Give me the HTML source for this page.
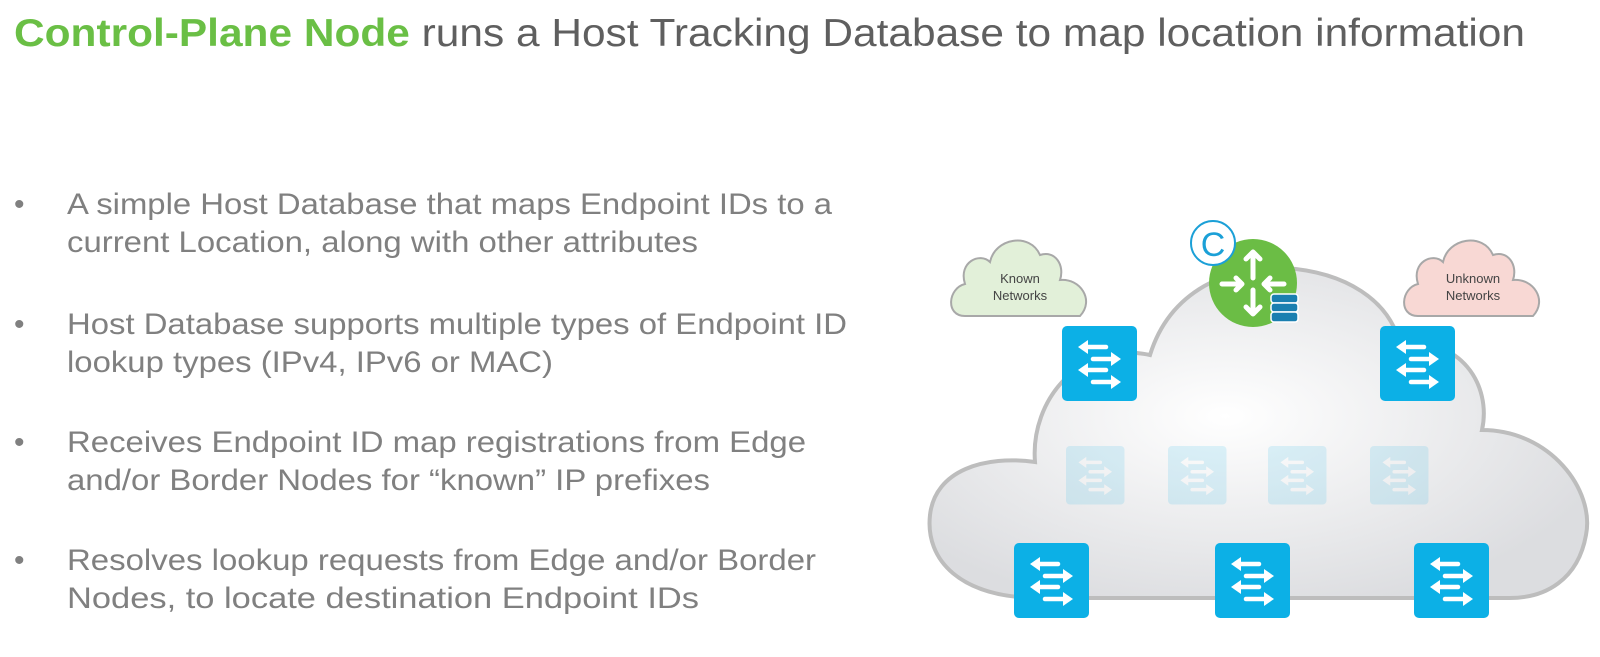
<!DOCTYPE html>
<html><head><meta charset="utf-8"><style>
html,body{margin:0;padding:0;background:#fff;width:1600px;height:657px;overflow:hidden}
svg{display:block}
</style></head><body>
<svg width="1600" height="657" viewBox="0 0 1600 657" xmlns="http://www.w3.org/2000/svg" font-family="Liberation Sans, Arial, sans-serif">
<defs>
<radialGradient id="cg" cx="0.45" cy="0.45" r="0.6">
<stop offset="0" stop-color="#ffffff"/><stop offset="1" stop-color="#dcdde0"/>
</radialGradient>
<g id="sw">
<rect x="0" y="0" width="75" height="75" rx="5" fill="#0cb0e6"/>
<g stroke="#fff" stroke-width="4.5" fill="none" stroke-linecap="round">
<path d="M24 21 H44"/>
<path d="M31 33 H52"/>
<path d="M24 44 H44"/>
<path d="M31 56 H52"/>
</g>
<g fill="#fff">
<path d="M16 21 L26 14 L26 28 Z"/>
<path d="M59 33 L49 26 L49 40 Z"/>
<path d="M16 44 L26 37 L26 51 Z"/>
<path d="M59 56 L49 49 L49 63 Z"/>
</g>
</g>
</defs>

<text x="14" y="46" font-size="39" textLength="1511" lengthAdjust="spacingAndGlyphs"><tspan fill="#6abf45" font-weight="bold">Control-Plane Node</tspan><tspan fill="#5f5f5f"> runs a Host Tracking Database to map location information</tspan></text>

<g fill="#808080" font-size="30">
<text x="14" y="214">•</text>
<text x="67" y="214" textLength="765" lengthAdjust="spacingAndGlyphs">A simple Host Database that maps Endpoint IDs to a</text>
<text x="67" y="252" textLength="631" lengthAdjust="spacingAndGlyphs">current Location, along with other attributes</text>
<text x="14" y="334">•</text>
<text x="67" y="334" textLength="780" lengthAdjust="spacingAndGlyphs">Host Database supports multiple types of Endpoint ID</text>
<text x="67" y="372" textLength="486" lengthAdjust="spacingAndGlyphs">lookup types (IPv4, IPv6 or MAC)</text>
<text x="14" y="452">•</text>
<text x="67" y="452" textLength="739" lengthAdjust="spacingAndGlyphs">Receives Endpoint ID map registrations from Edge</text>
<text x="67" y="490" textLength="643" lengthAdjust="spacingAndGlyphs">and/or Border Nodes for “known” IP prefixes</text>
<text x="14" y="570">•</text>
<text x="67" y="570" textLength="749" lengthAdjust="spacingAndGlyphs">Resolves lookup requests from Edge and/or Border</text>
<text x="67" y="608" textLength="632" lengthAdjust="spacingAndGlyphs">Nodes, to locate destination Endpoint IDs</text>
</g>

<!-- small clouds -->
<path d="M965 316 C945 316 948 288 965 284 C958 262 980 252 990 262 C995 238 1030 232 1040 255 C1055 250 1065 265 1060 280 C1080 278 1095 300 1080 316 Z" fill="#e2f0d9" stroke="#a8a8a8" stroke-width="2"/>
<text x="1020" y="283" font-size="13" fill="#444" text-anchor="middle">Known</text>
<text x="1020" y="300" font-size="13" fill="#444" text-anchor="middle">Networks</text>
<path d="M1418 316 C1398 316 1401 288 1418 284 C1411 262 1433 252 1443 262 C1448 238 1483 232 1493 255 C1508 250 1518 265 1513 280 C1533 278 1548 300 1533 316 Z" fill="#f8d8d4" stroke="#a8a8a8" stroke-width="2"/>
<text x="1473" y="283" font-size="13" fill="#444" text-anchor="middle">Unknown</text>
<text x="1473" y="300" font-size="13" fill="#444" text-anchor="middle">Networks</text>

<!-- main cloud -->
<path d="M1040 598 C960 598 925 560 930 515 C935 470 985 455 1035 462 C1030 400 1080 340 1150 355 C1170 290 1230 265 1285 268 C1345 272 1390 300 1400 345 C1460 335 1492 385 1482 430 C1550 430 1595 490 1586 535 C1578 580 1545 598 1510 598 Z" fill="url(#cg)" stroke="#bdbdbd" stroke-width="4"/>

<!-- router -->
<circle cx="1253" cy="283" r="44" fill="#6bbd45"/>
<g stroke="#fff" stroke-width="5" fill="none" stroke-linecap="round" stroke-linejoin="round">
<path d="M1253 278 V252 M1246 259 L1253 252 L1260 259"/>
<path d="M1253 290 V314 M1246 307 L1253 314 L1260 307"/>
<path d="M1222 284 H1242 M1236 278 L1242 284 L1236 290"/>
<path d="M1284 284 H1264 M1270 278 L1264 284 L1270 290"/>
</g>
<circle cx="1213" cy="243" r="22" fill="#fff" stroke="#1ba0d7" stroke-width="2"/>
<text x="1213" y="256" font-size="34" fill="#1ba0d7" text-anchor="middle">C</text>
<g fill="#1a7fb0" stroke="#fff" stroke-width="1.5">
<rect x="1271" y="294" width="27" height="9" rx="3"/>
<rect x="1271" y="303" width="27" height="9" rx="3"/>
<rect x="1271" y="312" width="27" height="10" rx="3"/>
</g>

<!-- switches -->
<use href="#sw" transform="translate(1062,326)"/>
<use href="#sw" transform="translate(1380,326)"/>
<use href="#sw" transform="translate(1014,543)"/>
<use href="#sw" transform="translate(1215,543)"/>
<use href="#sw" transform="translate(1414,543)"/>
<g opacity="0.13">
<use href="#sw" transform="translate(1066,446) scale(0.78)"/>
<use href="#sw" transform="translate(1168,446) scale(0.78)"/>
<use href="#sw" transform="translate(1268,446) scale(0.78)"/>
<use href="#sw" transform="translate(1370,446) scale(0.78)"/>
</g>
</svg>
</body></html>
